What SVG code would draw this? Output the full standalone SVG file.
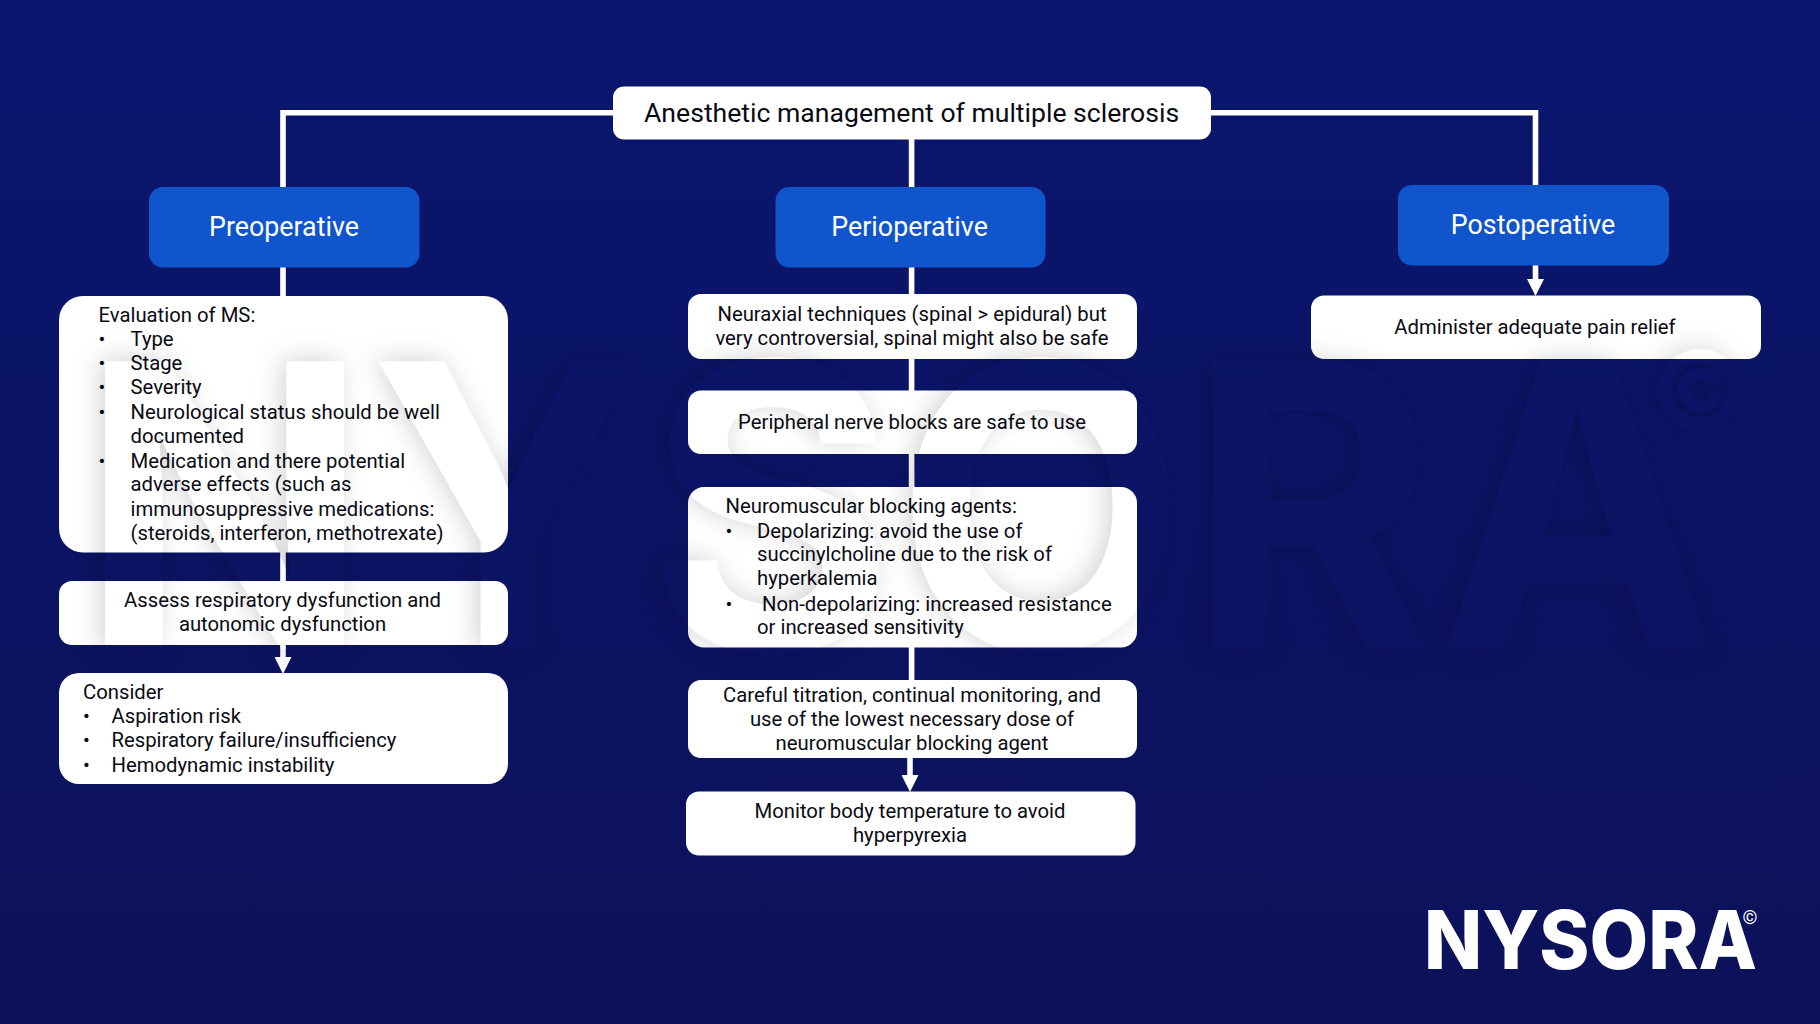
<svg xmlns="http://www.w3.org/2000/svg" width="1820" height="1024" viewBox="0 0 1820 1024">
<style>
.t{font-family:Roboto,"Liberation Sans",sans-serif;font-size:20.3px;fill:#0a0a14}
.m{text-anchor:middle}
.h{font-family:Roboto,"Liberation Sans",sans-serif;font-size:26.8px;fill:#fff;text-anchor:middle}
.w{fill:#fff}
.b{fill:#1155cc}
.c{fill:none;stroke:#fff;stroke-width:5.6}
.wm{font-family:Inter,'Liberation Sans',sans-serif;font-weight:700;fill:#000}
</style>
<defs>
<linearGradient id="bg" x1="0" y1="0" x2="0" y2="1"><stop offset="0" stop-color="#0a166f"/><stop offset="1" stop-color="#0c1159"/></linearGradient>
<marker id="ah" markerUnits="userSpaceOnUse" markerWidth="18" markerHeight="17" refX="0" refY="8.5" orient="auto"><path d="M0 0L17 8.5L0 17Z" fill="#fff"/></marker>
<filter id="sh" x="-5%" y="-20%" width="110%" height="140%" color-interpolation-filters="sRGB">
<feGaussianBlur in="SourceAlpha" stdDeviation="13" result="bl"/>
<feOffset in="bl" dx="-5" dy="-2" result="o"/>
<feComposite in="o" in2="SourceAlpha" operator="out" result="edge"/>
<feFlood flood-color="#000" flood-opacity="0.17"/>
<feComposite in2="edge" operator="in"/>
</filter>
</defs>
<rect width="1820" height="1024" fill="url(#bg)"/>
<g id="connectors">
<path class="c" d="M613 112.7H283V187"/>
<path class="c" d="M1211 112.7H1535.5V186"/>
<path class="c" d="M911.6 139V187"/>
<path class="c" d="M283 267V296M283 552V581"/>
<path class="c" d="M283 644V657" marker-end="url(#ah)"/>
<path class="c" d="M911.6 267V295M911.6 358V391M911.6 453V488M911.6 647V680"/>
<path class="c" d="M910 758V775" marker-end="url(#ah)"/>
<path class="c" d="M1535.5 265V279" marker-end="url(#ah)"/>
</g>
<g id="title"><rect class="w" x="613" y="86.5" width="598" height="53" rx="11"/><text x="911.6" y="122" text-anchor="middle" style="font-family:Roboto,'Liberation Sans',sans-serif;font-size:26.6px;fill:#0a0a14">Anesthetic management of multiple sclerosis</text></g>
<g id="preoperative"><rect class="b" x="149" y="187" width="270.5" height="80.5" rx="14"/><text class="h" x="284" y="236">Preoperative</text></g>
<g id="perioperative"><rect class="b" x="775.5" y="187" width="270" height="80.5" rx="14"/><text class="h" x="909.6" y="236">Perioperative</text></g>
<g id="postoperative"><rect class="b" x="1398" y="185" width="271" height="80.5" rx="14"/><text class="h" x="1533" y="234">Postoperative</text></g>
<g id="evaluation"><rect class="w" x="59" y="296" width="449" height="256.5" rx="24"/>
<text class="t" x="98.5" y="321.7">Evaluation of MS:</text>
<text class="t" x="98.5" y="345.8">•</text><text class="t" x="130.5" y="345.8">Type</text>
<text class="t" x="98.5" y="369.8">•</text><text class="t" x="130.5" y="369.8">Stage</text>
<text class="t" x="98.5" y="393.8">•</text><text class="t" x="130.5" y="393.8">Severity</text>
<text class="t" x="98.5" y="418.7">•</text><text class="t" x="130.5" y="418.7">Neurological status should be well</text>
<text class="t" x="130.5" y="442.7">documented</text>
<text class="t" x="98.5" y="467.5">•</text><text class="t" x="130.5" y="467.5">Medication and there potential</text>
<text class="t" x="130.5" y="491">adverse effects (such as</text>
<text class="t" x="130.5" y="516">immunosuppressive medications:</text>
<text class="t" x="130.5" y="540">(steroids, interferon, methotrexate)</text></g>
<g id="assess"><rect class="w" x="59" y="581" width="449" height="64" rx="13"/>
<text class="t m" x="282.5" y="606.5">Assess respiratory dysfunction and</text>
<text class="t m" x="282.5" y="631">autonomic dysfunction</text></g>
<g id="consider"><rect class="w" x="59" y="673" width="449" height="111" rx="20"/>
<text class="t" x="83" y="698.5">Consider</text>
<text class="t" x="83" y="723">•</text><text class="t" x="111.5" y="723">Aspiration risk</text>
<text class="t" x="83" y="747">•</text><text class="t" x="111.5" y="747">Respiratory failure/insufficiency</text>
<text class="t" x="83" y="771.5">•</text><text class="t" x="111.5" y="771.5">Hemodynamic instability</text></g>
<g id="neuraxial"><rect class="w" x="688" y="294" width="449" height="65" rx="13"/>
<text class="t m" x="912" y="320.5">Neuraxial techniques (spinal &gt; epidural) but</text>
<text class="t m" x="912" y="345">very controversial, spinal might also be safe</text></g>
<g id="peripheral"><rect class="w" x="688" y="390.5" width="449" height="63.5" rx="13"/>
<text class="t m" x="912" y="428.5">Peripheral nerve blocks are safe to use</text></g>
<g id="nmb"><rect class="w" x="688" y="487" width="449" height="160.5" rx="16"/>
<text class="t" x="725.5" y="512.5">Neuromuscular blocking agents:</text>
<text class="t" x="725.5" y="537.5">•</text><text class="t" x="757" y="537.5">Depolarizing: avoid the use of</text>
<text class="t" x="757" y="561">succinylcholine due to the risk of</text>
<text class="t" x="757" y="585">hyperkalemia</text>
<text class="t" x="725.5" y="610.5">•</text><text class="t" x="762" y="610.5">Non-depolarizing: increased resistance</text>
<text class="t" x="757" y="634">or increased sensitivity</text></g>
<g id="careful"><rect class="w" x="688" y="680" width="449" height="78" rx="13"/>
<text class="t m" x="912" y="701.5">Careful titration, continual monitoring, and</text>
<text class="t m" x="912" y="726">use of the lowest necessary dose of</text>
<text class="t m" x="912" y="749.7">neuromuscular blocking agent</text></g>
<g id="monitor"><rect class="w" x="686" y="791.5" width="449.5" height="64" rx="13"/>
<text class="t m" x="910" y="817.5">Monitor body temperature to avoid</text>
<text class="t m" x="910" y="841.5">hyperpyrexia</text></g>
<g id="pain"><rect class="w" x="1311" y="295.5" width="450" height="63.5" rx="13"/>
<text class="t m" x="1535" y="334">Administer adequate pain relief</text></g>
<g id="watermark" filter="url(#sh)"><text class="wm" x="80" y="650" textLength="1640" lengthAdjust="spacingAndGlyphs" font-size="397">NYSORA</text>
<text class="wm" x="1700" y="430" text-anchor="middle" font-size="110" font-weight="400">©</text></g>
<g id="logo"><text x="1424" y="969" textLength="333" lengthAdjust="spacingAndGlyphs" style="font-family:Inter,'Liberation Sans',sans-serif;font-weight:800;font-size:81px;fill:#fff">NYSORA</text>
<text x="1750" y="924" text-anchor="middle" style="font-family:Roboto,sans-serif;font-size:19px;fill:#fff">©</text></g>
</svg>
